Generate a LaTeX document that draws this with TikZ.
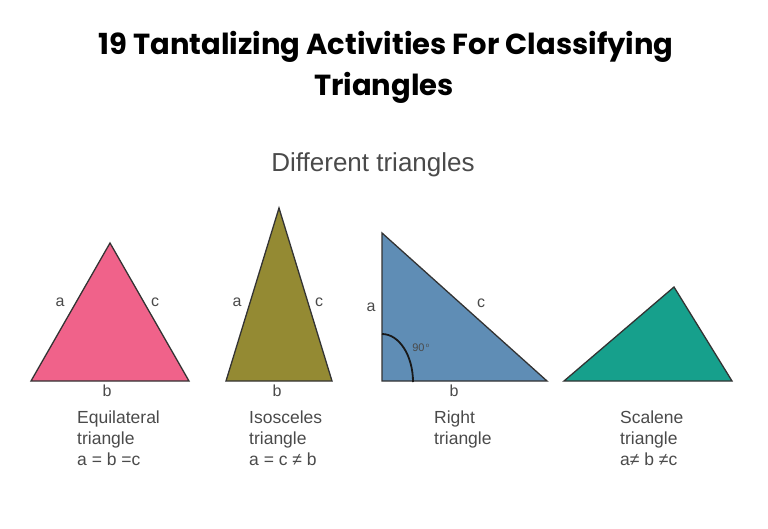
\documentclass[tikz,border=0pt]{standalone}
\usepackage{fontspec}
\setmainfont{Liberation Sans}
\newfontfamily\titlefont{Poppins}
\usetikzlibrary{positioning}

\definecolor{eqpink}{HTML}{F0628A}
\definecolor{isoolive}{HTML}{948A33}
\definecolor{rightblue}{HTML}{5F8DB5}
\definecolor{scateal}{HTML}{16A08C}
\definecolor{txtgray}{HTML}{4A4A4A}

\begin{document}
\begin{tikzpicture}[x=1pt,y=-1pt,
    tri/.style={draw=black!80, line width=1.3pt, line join=miter},
    side/.style={text=txtgray, font=\fontsize{16}{18}\selectfont, inner sep=0pt},
    caption/.style={text=txtgray, font=\fontsize{17.5}{21}\selectfont, align=left, anchor=north west, inner sep=0pt}]
    \useasboundingbox (0,0) rectangle (768,528);

    %Title
    \node at (386,47) (title1) {\titlefont\bfseries\fontsize{29}{32}\selectfont 19 Tantalizing Activities For Classifying};
    \node at (384,88) (title2) {\titlefont\bfseries\fontsize{29}{32}\selectfont Triangles};
    \node at (373,165) (heading) {\color{txtgray}\fontsize{26}{28}\selectfont Different triangles};

    %Triangles
    \coordinate (eqL) at (31,381);
    \coordinate (eqR) at (189,381);
    \coordinate (eqT) at (110,243);
    \fill[eqpink] (eqL) -- (eqR) -- (eqT) -- cycle;
    \draw[tri] (eqL) -- (eqR) -- (eqT) -- cycle;

    \coordinate (isoL) at (226,381);
    \coordinate (isoR) at (332,381);
    \coordinate (isoT) at (279,208);
    \fill[isoolive] (isoL) -- (isoR) -- (isoT) -- cycle;
    \draw[tri] (isoL) -- (isoR) -- (isoT) -- cycle;

    \coordinate (rtL) at (382,381);
    \coordinate (rtR) at (547,381);
    \coordinate (rtT) at (382,233);
    \fill[rightblue] (rtL) -- (rtR) -- (rtT) -- cycle;
    \draw[tri] (rtL) -- (rtR) -- (rtT) -- cycle;
    \coordinate (arcA) at (382,334);
    \draw[line width=1.8pt, black!90] (arcA) arc[start angle=-90, end angle=0, x radius=31, y radius=48];
    \node[text=txtgray, inner sep=0pt] at (421,348) (angle) {\fontsize{11}{12}\selectfont 90\textsuperscript{\,\fontsize{6}{6}\selectfont o}};

    \coordinate (scaL) at (564,381);
    \coordinate (scaR) at (732,381);
    \coordinate (scaT) at (674,287);
    \fill[scateal] (scaL) -- (scaR) -- (scaT) -- cycle;
    \draw[tri] (scaL) -- (scaR) -- (scaT) -- cycle;

    %Side labels
    \node[side] at (60,302) (eqa) {a};
    \node[side] at (155,302) (eqc) {c};
    \node[side] at (107,391) (eqb) {b};
    \node[side] at (237,302) (isoa) {a};
    \node[side] at (319,302) (isoc) {c};
    \node[side] at (277,391) (isob) {b};
    \node[side] at (371,307) (rta) {a};
    \node[side] at (481,303) (rtc) {c};
    \node[side] at (454,391) (rtb) {b};

    %Captions
    \node[caption] at (77,411) (eqcap) {Equilateral\\triangle\\a = b =c};
    \node[caption] at (249,411) (isocap) {Isosceles\\triangle\\a = c ≠ b};
    \node[caption] at (434,411) (rtcap) {Right\\triangle};
    \node[caption] at (620,411) (scacap) {Scalene\\triangle\\a≠ b ≠c};
\end{tikzpicture}
\end{document}
